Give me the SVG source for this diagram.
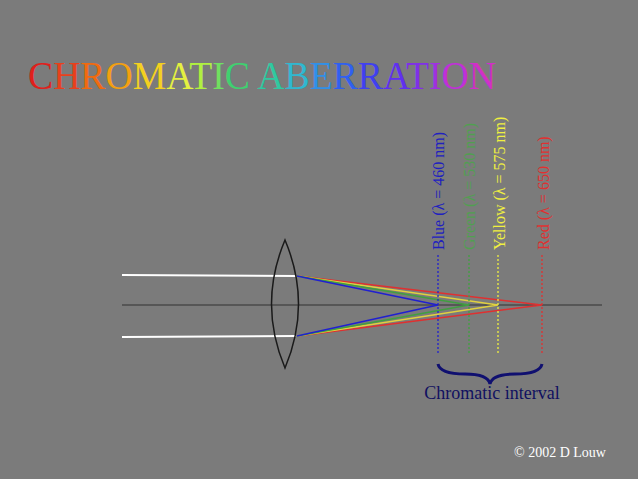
<svg xmlns="http://www.w3.org/2000/svg" width="638" height="479" viewBox="0 0 638 479">
<style>
.t{font-family:"Liberation Serif",serif}
.v{font-family:"Liberation Serif",serif;font-size:16px}
.d{stroke-width:1.3;stroke-dasharray:2,2;fill:none}
</style>
<rect width="638" height="479" fill="#7b7b7b"/>
<text class="t" x="28" y="89" font-size="40" textLength="468" lengthAdjust="spacingAndGlyphs"><tspan fill="#e0201c">C</tspan><tspan fill="#e8401c">H</tspan><tspan fill="#f06a10">R</tspan><tspan fill="#f4a010">O</tspan><tspan fill="#f4d020">M</tspan><tspan fill="#e4f040">A</tspan><tspan fill="#b0f040">T</tspan><tspan fill="#70e060">I</tspan><tspan fill="#40d070">C</tspan><tspan> </tspan><tspan fill="#30c8a0">A</tspan><tspan fill="#30b8d0">B</tspan><tspan fill="#3090e8">E</tspan><tspan fill="#3060f0">R</tspan><tspan fill="#4040f0">R</tspan><tspan fill="#6030f0">A</tspan><tspan fill="#8030e8">T</tspan><tspan fill="#a030e0">I</tspan><tspan fill="#c030d8">O</tspan><tspan fill="#d030c8">N</tspan></text>
<g id="axis"><line x1="122" y1="305" x2="602" y2="305" stroke="#4a4a4a" stroke-width="1.5"/></g>
<g id="incoming" stroke="#fff" stroke-width="2">
<line x1="122" y1="275" x2="296" y2="276"/><line x1="122" y1="337" x2="296" y2="336"/>
</g>
<g id="lens"><path d="M285,240 Q258,304 285,368 Q312,304 285,240 Z" fill="none" stroke="#1a1a1a" stroke-width="1.5"/></g>
<g id="connectors" stroke-width="1.5" fill="none">
<polyline points="297,276 542,305 297,336" stroke="#e03030"/>
<polyline points="297,276 498,305 297,336" stroke="#e0d040"/>
<polyline points="297,276 469,305 297,336" stroke="#40a040"/>
<polyline points="297,276 438,305 297,336" stroke="#2020d0"/>
</g>
<g id="markers">
<line class="d" x1="438" y1="255" x2="438" y2="355" stroke="#2020d0"/>
<line class="d" x1="469" y1="255" x2="469" y2="355" stroke="#40a040"/>
<line class="d" x1="498" y1="255" x2="498" y2="355" stroke="#f0f040"/>
<line class="d" x1="542" y1="255" x2="542" y2="355" stroke="#e03030"/>
</g>
<g id="labels">
<text class="v" transform="translate(444,250) rotate(-90)" fill="#2020c0">Blue (λ =  460 nm)</text>
<text class="v" transform="translate(475,250) rotate(-90)" fill="#50a050">Green (λ = 530 nm)</text>
<text class="v" transform="translate(505,250) rotate(-90)" fill="#f0f040">Yellow (λ = 575 nm)</text>
<text class="v" transform="translate(549,250) rotate(-90)" fill="#e03030">Red (λ =  650 nm)</text>
</g>
<g id="brace"><path d="M438,364 Q440,374 465,374 Q488,374 490,384 Q492,374 515,374 Q540,374 542,364" fill="none" stroke="#101070" stroke-width="3"/></g>
<text class="t" x="492" y="399" font-size="18" text-anchor="middle" fill="#101060">Chromatic interval</text>
<text class="t" x="514" y="457" font-size="14" fill="#fff">© 2002  D Louw</text>
</svg>
